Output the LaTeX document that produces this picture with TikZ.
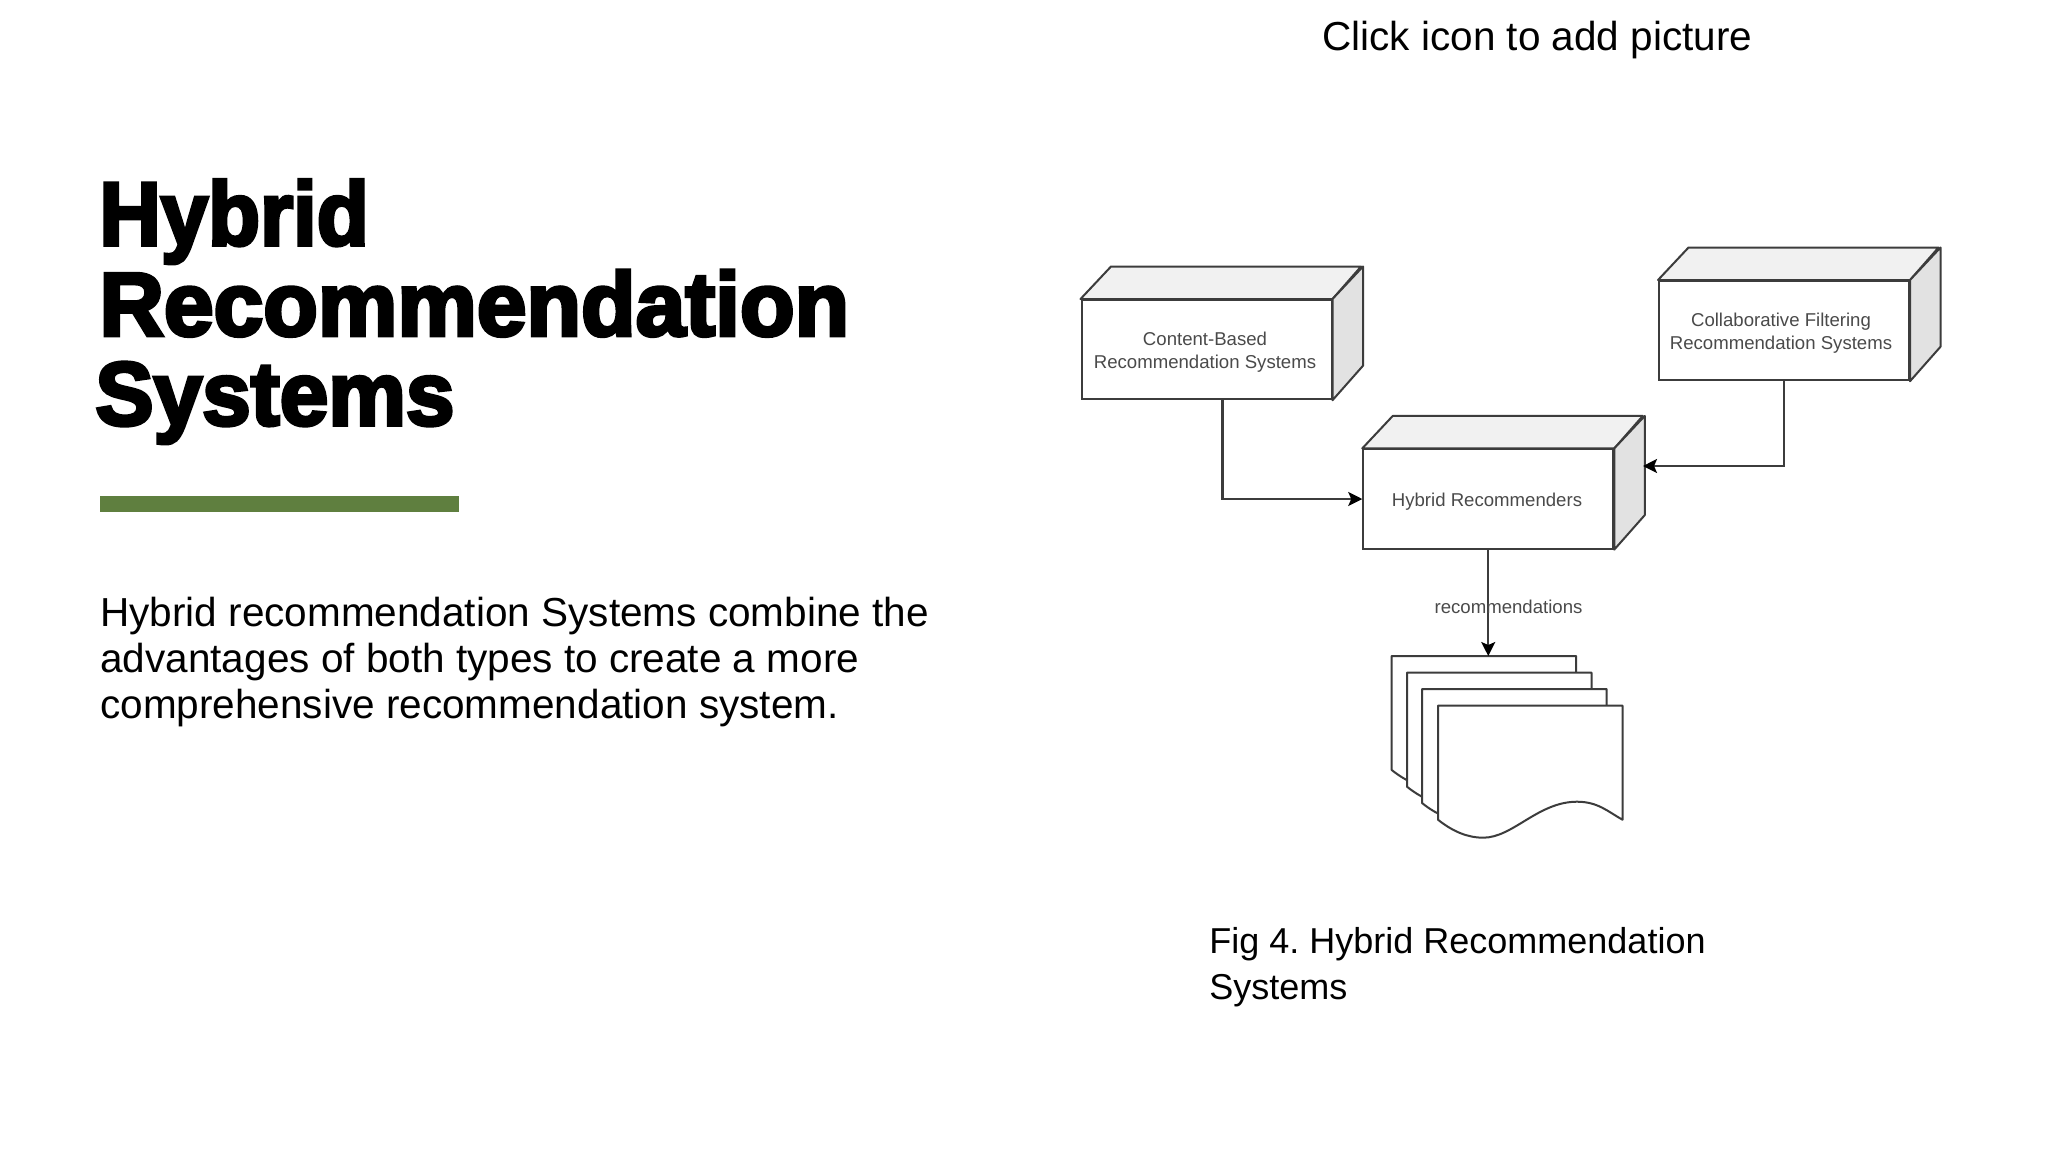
\documentclass[tikz,border=0pt]{standalone}
\usepackage{fontspec}
\usetikzlibrary{arrows.meta}
\setmainfont{Liberation Sans}
\newfontfamily\titlefont[FakeBold=4]{Liberation Sans Bold}
\frenchspacing
\definecolor{linegray}{HTML}{3C3C3C}
\definecolor{labelgray}{HTML}{4A4A4A}
\definecolor{topface}{HTML}{F1F1F1}
\definecolor{sideface}{HTML}{E2E2E2}
\definecolor{barcol}{HTML}{5F7F3F}
\tikzset{
  x=0.5pt,y=-0.5pt,
  titletext/.style={anchor=base west,inner sep=0pt,font=\titlefont\fontsize{45}{45}\selectfont},
  bodytext/.style={anchor=north west,inner sep=0pt,align=left,font=\fontsize{20.25}{23}\selectfont},
  captext/.style={anchor=north west,inner sep=0pt,align=left,font=\fontsize{18}{23}\selectfont},
  boxlabel/.style={align=center,text=labelgray,font=\fontsize{9.3}{11.2}\selectfont},
  frontbox/.style={draw=linegray,line width=1pt,fill=white,inner sep=0pt,minimum width=125pt,minimum height=49.6pt},
  topfacestyle/.style={draw=linegray,line width=1pt,fill=topface,line join=round},
  sidefacestyle/.style={draw=linegray,line width=1pt,fill=sideface,line join=round},
  conn/.style={draw=linegray,line width=1.1pt,-{Stealth[length=7pt,width=7pt,inset=1.5pt,color=black,fill=black]}},
  sheet/.pic={
    \draw[draw=linegray,line width=1pt,fill=white,line join=round]
      (0,114) -- (0,0) -- (184.5,0) -- (184.5,114)
      .. controls (170,106) and (160,96) .. (139,96)
      .. controls (100,96) and (75,132) .. (45,132)
      .. controls (30,132) and (15,126) .. (0,114) -- cycle;
  }
}
\begin{document}
\begin{tikzpicture}
\useasboundingbox[fill=white] (0,0) rectangle (2048,1152);

% left text
\node[titletext] (t1) at (99,245) {\scalebox{.945}[1]{Hybrid}};
\node[titletext] (t2) at (99,335.5) {\scalebox{.993}[1]{Recommendation}};
\node[titletext] (t3) at (95,425) {\scalebox{.97}[1]{Systems}};
\fill[barcol] (99.5,495.5) rectangle (459,512);
\node[bodytext] (body) at (100,596.5) {Hybrid recommendation Systems combine the\\advantages of both types to create a more\\comprehensive recommendation system.};

% right text
\node[anchor=base west,inner sep=0pt,font=\fontsize{20.25}{23}\selectfont] (click) at (1322,50.5) {Click icon to add picture};
\node[captext] (cap) at (1209,927) {Fig 4. Hybrid Recommendation\\Systems};

% boxes
\node[frontbox] (cb) at (1206.5,349.6) {};
\node[frontbox] (cf) at (1784,330.6) {};
\node[frontbox] (hy) at (1488.25,499) {};
\foreach \n in {cb,cf,hy}{
  \draw[topfacestyle] (\n.north west) -- ++(30.5,-32.5) -- ++(250,0) -- (\n.north east) -- cycle;
  \draw[sidefacestyle] (\n.north east) -- ++(30.5,-32.5) -- ++(0,99.2) -- (\n.south east) -- cycle;
}
\node[boxlabel] (cbt) at (1205,352) {Content-Based\\Recommendation Systems};
\node[boxlabel] (cft) at (1781,333) {Collaborative Filtering\\Recommendation Systems};
\node[boxlabel] (hyt) at (1487,502) {Hybrid Recommenders};

% documents
\pic at (1391.7,656) {sheet};
\pic at (1407,672.7) {sheet};
\pic at (1422,689) {sheet};
\pic at (1438,705.7) {sheet};
\coordinate (docin) at (1488.25,656);
\coordinate (hyin) at (1643,466);

% connectors
\draw[conn] ([xshift=8pt]cb.south) |- (hy.west);
\draw[conn] (cf.south) |- (hyin);
\draw[conn] (hy.south) -- (docin);
\node[boxlabel,inner sep=0pt] (rec) at (1508.5,607) {recommendations};
\end{tikzpicture}
\end{document}
